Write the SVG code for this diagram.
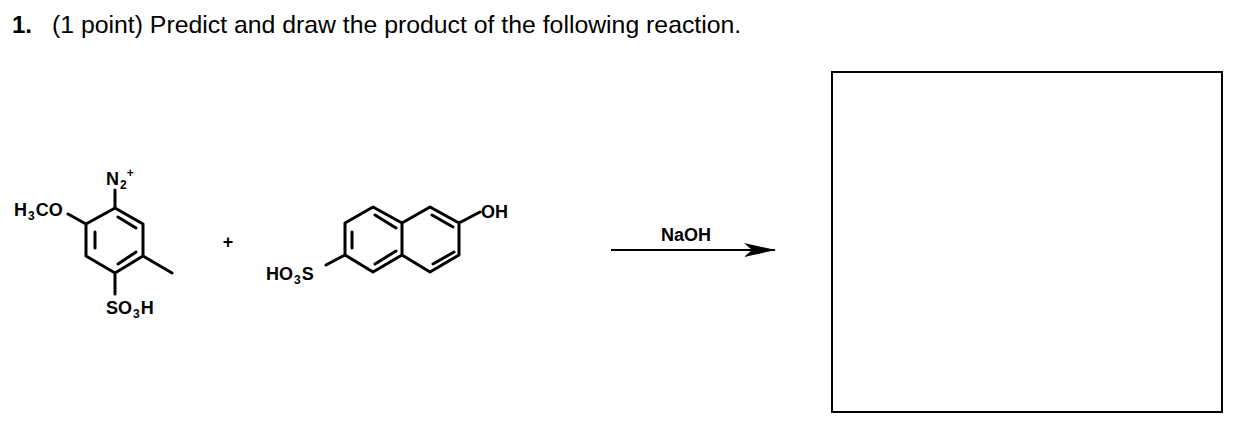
<svg xmlns="http://www.w3.org/2000/svg" width="1248" height="426" viewBox="0 0 1248 426">
<style>
.b{stroke:#000;stroke-width:3;fill:none;stroke-linecap:round;stroke-linejoin:round}
.t{font-family:"Liberation Sans",Arial,sans-serif;font-weight:bold;font-size:18px;fill:#000}
.s{font-size:12px}
</style>
<defs><marker id="ah" markerWidth="32" markerHeight="14" refX="31" refY="7" orient="auto" markerUnits="userSpaceOnUse"><path d="M0,0L32,7L0,14L8,7Z" fill="#000"/></marker></defs>
<rect width="1248" height="426" fill="#fff"/>
<text x="12" y="33" font-family="Liberation Sans,Arial,sans-serif" font-size="24" font-weight="bold">1.</text>
<text x="52" y="33" font-family="Liberation Sans,Arial,sans-serif" font-size="24.8">(1 point) Predict and draw the product of the following reaction.</text>
<g id="diazonium">
<path class="b" d="M115,208L143,224L143,256L115,273L86,256L86,224Z M95,232L95,248 M118,217L136,228 M118,264L136,252 M115,208L115,190 M86,224L68,214 M143,256L172,273 M115,273L115,294"/>
<text class="t" x="14" y="216">H<tspan class="s" dx="1" dy="4">3</tspan><tspan dx="1" dy="-4">CO</tspan></text>
<text class="t" x="106" y="185">N<tspan class="s" dx="1" dy="4">2</tspan><tspan class="s" dy="-12">+</tspan></text>
<text class="t" x="106" y="314">SO<tspan class="s" dx="1" dy="4">3</tspan><tspan dx="1" dy="-4">H</tspan></text>
</g>
<text class="t" x="228" y="248" text-anchor="middle">+</text>
<g id="naphthol">
<path class="b" d="M373,207L402,223L402,255L373,272L345,255L345,223Z M402,223L430,207L459,223L459,255L430,272L402,255 M352,232L352,248 M375,215L396,228 M375,264L396,251 M432,215L453,227 M433,264L454,252 M459,223L480,212 M345,255L326,265"/>
<text class="t" x="481" y="218">OH</text>
<text class="t" x="266" y="280">HO<tspan class="s" dx="1" dy="4">3</tspan><tspan dx="1" dy="-4">S</tspan></text>
</g>
<g id="connectors">
<line x1="611" y1="250" x2="775" y2="250" stroke="#000" stroke-width="2" marker-end="url(#ah)"/>
</g>
<text class="t" x="686" y="241" text-anchor="middle">NaOH</text>
<rect id="answer-box" x="832" y="72" width="390" height="340" fill="none" stroke="#000" stroke-width="2"/>
</svg>
